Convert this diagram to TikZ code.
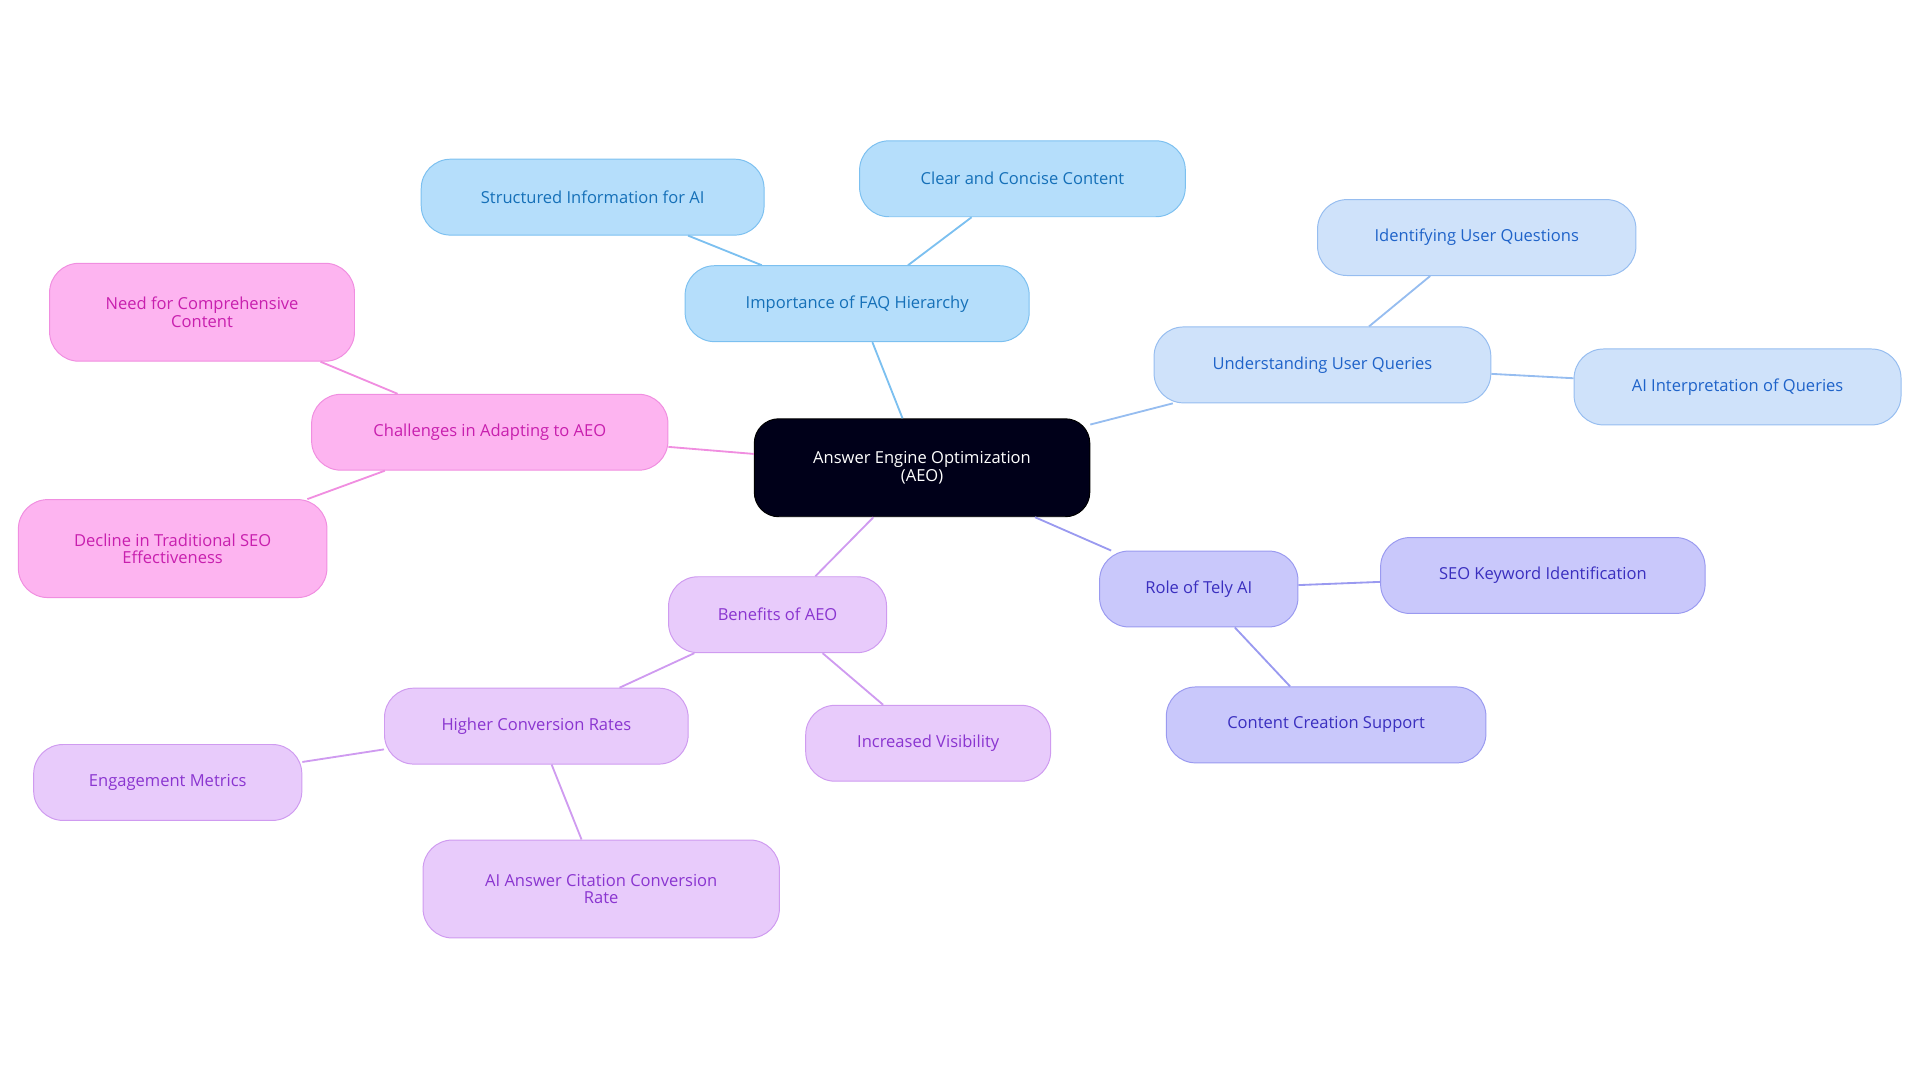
\documentclass[tikz,border=0pt]{standalone}
\usepackage{fontspec}
\setmainfont{Open Sans}
\begin{document}
\begin{tikzpicture}[x=1pt,y=-1pt,
  base/.style={draw,rounded corners=24pt,line width=0.8pt,align=center,font=\fontsize{13.5}{14}\selectfont,inner sep=0pt,minimum height=62pt},
  ctr/.style={base,fill=black!90!blue,draw=black,text=white,rounded corners=20pt},
  cb/.style={base,fill=cbf,draw=cbd,text=cbt},
  cu/.style={base,fill=cuf,draw=cud,text=cut},
  cr/.style={base,fill=crf,draw=crd,text=crt},
  cp/.style={base,fill=cpf,draw=cpd,text=cpt},
  cc/.style={base,fill=ccf,draw=ccd,text=cct},
  lk/.style={line width=1.5pt}]
\definecolor{cbf}{HTML}{B5DEFB}\definecolor{cbd}{HTML}{7CC0F0}\definecolor{cbt}{HTML}{1570B8}
\definecolor{cuf}{HTML}{CFE2FA}\definecolor{cud}{HTML}{96BDF0}\definecolor{cut}{HTML}{1F63C9}
\definecolor{crf}{HTML}{C9C8FB}\definecolor{crd}{HTML}{9A9AF0}\definecolor{crt}{HTML}{3A2FBF}
\definecolor{cpf}{HTML}{E8CBFB}\definecolor{cpd}{HTML}{CF9BF0}\definecolor{cpt}{HTML}{8A35D0}
\definecolor{ccf}{HTML}{FDB4F0}\definecolor{ccd}{HTML}{F08EE0}\definecolor{cct}{HTML}{C81FAE}
\useasboundingbox (0,0) rectangle (1568,884);
\node[ctr,minimum width=274pt,minimum height=80pt] (c) at (753,382) {Answer Engine Optimization\\(AEO)};
\node[cb,minimum width=281pt] (faq) at (700,248) {Importance of FAQ Hierarchy};
\node[cb,minimum width=280pt] (str) at (484,161) {Structured Information for AI};
\node[cb,minimum width=266pt] (clr) at (835,146) {Clear and Concise Content};
\node[cu,minimum width=275pt] (und) at (1080,298) {Understanding User Queries};
\node[cu,minimum width=260pt] (idq) at (1206,194) {Identifying User Questions};
\node[cu,minimum width=267pt] (aiq) at (1419,316) {AI Interpretation of Queries};
\node[cr,minimum width=162pt] (tel) at (979,481) {Role of Tely AI};
\node[cr,minimum width=265pt] (seo) at (1260,470) {SEO Keyword Identification};
\node[cr,minimum width=261pt] (ccs) at (1083,592) {Content Creation Support};
\node[cp,minimum width=178pt] (ben) at (635,502) {Benefits of AEO};
\node[cp,minimum width=248pt] (hcr) at (438,593) {Higher Conversion Rates};
\node[cp,minimum width=200pt] (inc) at (758,607) {Increased Visibility};
\node[cp,minimum width=219pt] (eng) at (137,639) {Engagement Metrics};
\node[cp,minimum width=291pt,minimum height=80pt] (aac) at (491,726) {AI Answer Citation Conversion\\Rate};
\node[cc,minimum width=291pt] (cha) at (400,353) {Challenges in Adapting to AEO};
\node[cc,minimum width=249pt,minimum height=80pt] (nee) at (165,255) {Need for Comprehensive\\Content};
\node[cc,minimum width=252pt,minimum height=80pt] (dec) at (141,448) {Decline in Traditional SEO\\Effectiveness};
\draw[lk,cbd] (c) -- (faq); \draw[lk,cbd] (faq) -- (str); \draw[lk,cbd] (faq) -- (clr);
\draw[lk,cud] (c) -- (und); \draw[lk,cud] (und) -- (idq); \draw[lk,cud] (und) -- (aiq);
\draw[lk,crd] (c) -- (tel); \draw[lk,crd] (tel) -- (seo); \draw[lk,crd] (tel) -- (ccs);
\draw[lk,cpd] (c) -- (ben); \draw[lk,cpd] (ben) -- (hcr); \draw[lk,cpd] (ben) -- (inc);
\draw[lk,cpd] (hcr) -- (eng); \draw[lk,cpd] (hcr) -- (aac);
\draw[lk,ccd] (c) -- (cha); \draw[lk,ccd] (cha) -- (nee); \draw[lk,ccd] (cha) -- (dec);
\end{tikzpicture}
\end{document}
